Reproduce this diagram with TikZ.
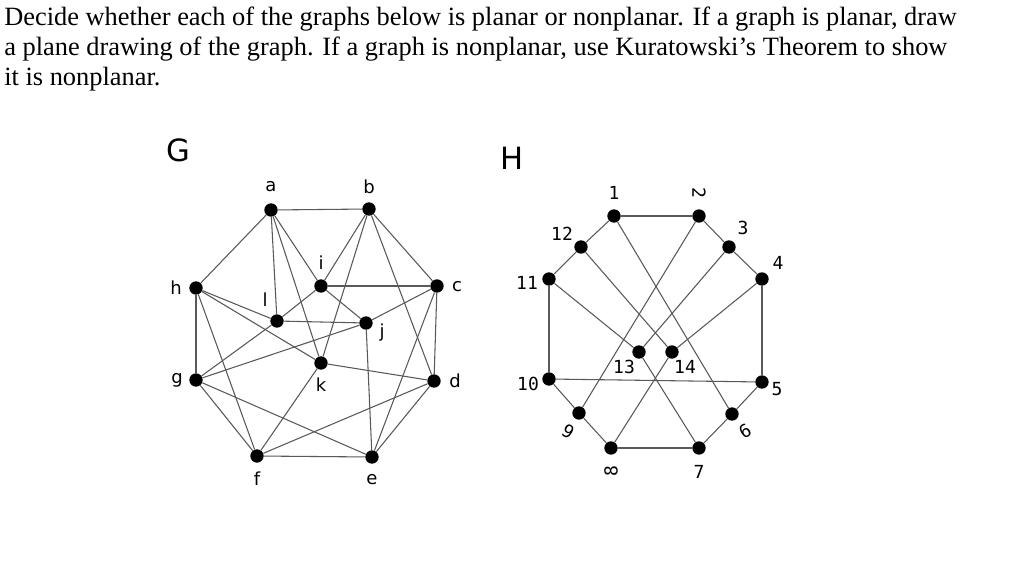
\documentclass[tikz,border=0pt]{standalone}
\usepackage{fontspec}
\setmainfont{Liberation Serif}
\newfontfamily\lblfont{DejaVu Sans}
\newfontfamily\numfont{DejaVu Sans Mono}
\begin{document}
\begin{tikzpicture}[x=0.75pt,y=-0.75pt,
  v/.style={circle,fill=black,inner sep=0pt,minimum size=10pt},
  e/.style={draw=black!65,line width=0.8pt},
  lb/.style={font=\lblfont\fontsize{13.5}{16}\selectfont,inner sep=1pt},
  ln/.style={font=\numfont\fontsize{13.5}{16}\selectfont,inner sep=1pt},
  tt/.style={anchor=base west,inner sep=0pt,font=\fontsize{19.8}{23}\selectfont}]
\useasboundingbox (0,0) rectangle (1024,564);
\node[tt] (t1) at (4,25) {Decide whether each of the graphs below is planar or nonplanar. If a graph is planar, draw};
\node[tt] (t2) at (4,55) {a plane drawing of the graph. If a graph is nonplanar, use Kuratowski’s Theorem to show};
\node[tt] (t3) at (4,85) {it is nonplanar.};
\node[font=\lblfont\fontsize{23}{27}\selectfont] (G) at (178,150) {G};
\node[font=\lblfont\fontsize{23}{27}\selectfont] (H) at (512,158) {H};
% G
\node[v] (a) at (271,210) {}; \node[v] (b) at (369,209) {};
\node[v] (c) at (437,286) {}; \node[v] (d) at (434,381) {};
\node[v] (e) at (372,457) {}; \node[v] (f) at (257,456) {};
\node[v] (g) at (196,380) {}; \node[v] (h) at (196,288) {};
\node[v] (i) at (321,286) {}; \node[v] (l) at (277,321) {};
\node[v] (j) at (366,323) {}; \node[v] (k) at (321,363) {};
\foreach \p/\q in {a/b,a/h,a/l,a/i,a/k,b/i,b/k,b/c,b/d,c/d,c/i,c/j,c/e,d/k,d/e,d/f,e/f,e/j,e/g,f/g,f/h,f/k,g/h,g/l,g/j,h/l,h/k,i/j,i/l,l/j}
  \draw[e] (\p) -- (\q);
\node[lb] (la) at (271,187) {a}; \node[lb] (lbb) at (369,187) {b};
\node[lb] (lc) at (457,287) {c}; \node[lb] (ld) at (455,381) {d};
\node[lb] (le) at (372,480) {e}; \node[lb] (lf) at (257,479) {f};
\node[lb] (lg) at (177,380) {g}; \node[lb] (lh) at (176,288) {h};
\node[lb] (li) at (321,263) {i}; \node[lb] (ll) at (265,300) {l};
\node[lb] (lj) at (382,333) {j}; \node[lb] (lk) at (321,385) {k};
% H
\node[v] (n1) at (614,216) {}; \node[v] (n2) at (699,216) {};
\node[v] (n3) at (729,247) {}; \node[v] (n4) at (762,279) {};
\node[v] (n5) at (762,382) {}; \node[v] (n6) at (732,414) {};
\node[v] (n7) at (699,448) {}; \node[v] (n8) at (611,448) {};
\node[v] (n9) at (579,413) {}; \node[v] (n10) at (549,379) {};
\node[v] (n11) at (549,279) {}; \node[v] (n12) at (581,247) {};
\node[v] (n13) at (639,352) {}; \node[v] (n14) at (672,352) {};
\foreach \p/\q in {1/2,2/3,3/4,4/5,5/6,6/7,7/8,8/9,9/10,10/11,11/12,12/1,10/5,1/6,2/9,3/13,4/14,11/13,12/14,13/7,14/8}
  \draw[e] (n\p) -- (n\q);
\node[ln] (m1) at (614,193) {1}; \node[ln,rotate=-90] (m2) at (699,193) {2};
\node[ln] (m3) at (743,228) {3}; \node[ln] (m4) at (778,263) {4};
\node[ln] (m5) at (777,389) {5}; \node[ln,rotate=30] (m6) at (745,431) {6};
\node[ln] (m7) at (699,472) {7}; \node[ln,rotate=90] (m8) at (611,471) {8};
\node[ln,rotate=-30] (m9) at (568,432) {9}; \node[ln] (m10) at (528,384) {10};
\node[ln] (m11) at (527,283) {11}; \node[ln] (m12) at (562,234) {12};
\node[ln] (m13) at (624,367) {13}; \node[ln] (m14) at (685,367) {14};
\end{tikzpicture}
\end{document}
